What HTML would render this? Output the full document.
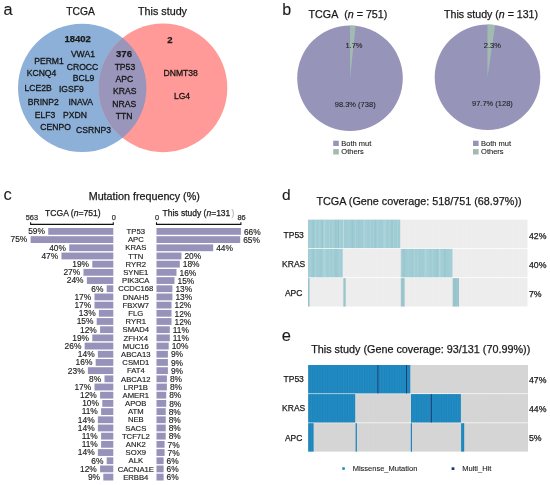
<!DOCTYPE html>
<html><head><meta charset="utf-8"><style>
html,body{margin:0;padding:0;background:#fff;}
body{width:550px;height:485px;overflow:hidden;}
svg{display:block;font-family:"Liberation Sans", sans-serif;will-change:transform;}
</style></head><body>
<svg width="550" height="485" viewBox="0 0 550 485">
<rect width="550" height="485" fill="#fff"/>
<circle cx="82.2" cy="87.9" r="64.2" fill="#8db0d8"/>
<circle cx="163.0" cy="87.9" r="64.3" fill="#ff9a98"/>
<clipPath id="cb"><circle cx="82.2" cy="87.9" r="64.2"/></clipPath>
<circle cx="163.0" cy="87.9" r="64.3" fill="#9995bb" clip-path="url(#cb)"/>
<text x="3.6" y="15.0" font-size="16.3" text-anchor="start" font-weight="normal" fill="#1a1a1a" stroke="#1a1a1a" stroke-width="0.1" >a</text>
<text x="66.2" y="15.1" font-size="10.3" text-anchor="start" font-weight="normal" fill="#1a1a1a" stroke="#1a1a1a" stroke-width="0.25" >TCGA</text>
<text x="138.0" y="15.0" font-size="10.75" text-anchor="start" font-weight="normal" fill="#1a1a1a" stroke="#1a1a1a" stroke-width="0.25" >This study</text>
<text x="77.6" y="42.4" font-size="9.5" text-anchor="middle" font-weight="bold" fill="#1a1a1a" stroke="#1a1a1a" stroke-width="0.25" >18402</text>
<text x="124" y="57.3" font-size="9.5" text-anchor="middle" font-weight="bold" fill="#1a1a1a" stroke="#1a1a1a" stroke-width="0.25" >376</text>
<text x="169.9" y="42.8" font-size="9.5" text-anchor="middle" font-weight="bold" fill="#1a1a1a" stroke="#1a1a1a" stroke-width="0.25" >2</text>
<text x="82.9" y="57.3" font-size="8.6" text-anchor="middle" font-weight="normal" fill="#151515" stroke="#151515" stroke-width="0.28" >VWA1</text>
<text x="49" y="63.5" font-size="8.6" text-anchor="middle" font-weight="normal" fill="#151515" stroke="#151515" stroke-width="0.28" >PERM1</text>
<text x="82.5" y="69.9" font-size="8.6" text-anchor="middle" font-weight="normal" fill="#151515" stroke="#151515" stroke-width="0.28" >CROCC</text>
<text x="41.5" y="76.0" font-size="8.6" text-anchor="middle" font-weight="normal" fill="#151515" stroke="#151515" stroke-width="0.28" >KCNQ4</text>
<text x="83.5" y="81.1" font-size="8.6" text-anchor="middle" font-weight="normal" fill="#151515" stroke="#151515" stroke-width="0.28" >BCL9</text>
<text x="38.2" y="91.0" font-size="8.6" text-anchor="middle" font-weight="normal" fill="#151515" stroke="#151515" stroke-width="0.28" >LCE2B</text>
<text x="71.3" y="92.3" font-size="8.6" text-anchor="middle" font-weight="normal" fill="#151515" stroke="#151515" stroke-width="0.28" >IGSF9</text>
<text x="43.25" y="104.9" font-size="8.6" text-anchor="middle" font-weight="normal" fill="#151515" stroke="#151515" stroke-width="0.28" >BRINP2</text>
<text x="80.75" y="104.9" font-size="8.6" text-anchor="middle" font-weight="normal" fill="#151515" stroke="#151515" stroke-width="0.28" >INAVA</text>
<text x="45" y="118" font-size="8.6" text-anchor="middle" font-weight="normal" fill="#151515" stroke="#151515" stroke-width="0.28" >ELF3</text>
<text x="75" y="118" font-size="8.6" text-anchor="middle" font-weight="normal" fill="#151515" stroke="#151515" stroke-width="0.28" >PXDN</text>
<text x="55.6" y="129.6" font-size="8.6" text-anchor="middle" font-weight="normal" fill="#151515" stroke="#151515" stroke-width="0.28" >CENPO</text>
<text x="93.5" y="132.7" font-size="8.6" text-anchor="middle" font-weight="normal" fill="#151515" stroke="#151515" stroke-width="0.28" >CSRNP3</text>
<text x="124.9" y="69.5" font-size="8.6" text-anchor="middle" font-weight="normal" fill="#151515" stroke="#151515" stroke-width="0.28" >TP53</text>
<text x="124.4" y="81.9" font-size="8.6" text-anchor="middle" font-weight="normal" fill="#151515" stroke="#151515" stroke-width="0.28" >APC</text>
<text x="124.7" y="94.4" font-size="8.6" text-anchor="middle" font-weight="normal" fill="#151515" stroke="#151515" stroke-width="0.28" >KRAS</text>
<text x="124.25" y="106.8" font-size="8.6" text-anchor="middle" font-weight="normal" fill="#151515" stroke="#151515" stroke-width="0.28" >NRAS</text>
<text x="124.0" y="119.0" font-size="8.6" text-anchor="middle" font-weight="normal" fill="#151515" stroke="#151515" stroke-width="0.28" >TTN</text>
<text x="180.7" y="76.0" font-size="8.6" text-anchor="middle" font-weight="normal" fill="#151515" stroke="#151515" stroke-width="0.28" >DNMT38</text>
<text x="182" y="98.9" font-size="8.6" text-anchor="middle" font-weight="normal" fill="#151515" stroke="#151515" stroke-width="0.28" >LG4</text>
<circle cx="350" cy="78.2" r="52.8" fill="#9794b9"/>
<path d="M350,78.2 L350,25.400000000000006 A52.8,52.8 0 0 1 355.63,25.70 Z" fill="#a2bbb0"/>
<circle cx="487.5" cy="77.2" r="52.8" fill="#9794b9"/>
<path d="M487.5,77.2 L487.5,24.400000000000006 A52.8,52.8 0 0 1 495.10,24.95 Z" fill="#a2bbb0"/>
<text x="282.3" y="15.3" font-size="16" text-anchor="start" font-weight="normal" fill="#1a1a1a" stroke="#1a1a1a" stroke-width="0.1" >b</text>
<text x="308.6" y="18.1" font-size="10.7" text-anchor="start" font-weight="normal" fill="#1a1a1a" stroke="#1a1a1a" stroke-width="0.25" >TCGA&#160;&#160;(<tspan font-style="italic">n</tspan> = 751)</text>
<text x="444.1" y="17.7" font-size="10.6" text-anchor="start" font-weight="normal" fill="#1a1a1a" stroke="#1a1a1a" stroke-width="0.25" >This study (<tspan font-style="italic">n</tspan> = 131)</text>
<text x="354" y="48.3" font-size="7.5" text-anchor="middle" font-weight="normal" fill="#222" stroke="#222" stroke-width="0.1" >1.7%</text>
<text x="355.2" y="106.5" font-size="7.5" text-anchor="middle" font-weight="normal" fill="#222" stroke="#222" stroke-width="0.1" >98.3% (738)</text>
<text x="492.3" y="48.1" font-size="7.5" text-anchor="middle" font-weight="normal" fill="#222" stroke="#222" stroke-width="0.1" >2.3%</text>
<text x="492.4" y="106.4" font-size="7.5" text-anchor="middle" font-weight="normal" fill="#222" stroke="#222" stroke-width="0.1" >97.7% (128)</text>
<rect x="333.2" y="140.7" width="5.6" height="5.3" fill="#9794b9"/>
<rect x="333.2" y="149.1" width="5.6" height="5.4" fill="#a2bbb0"/>
<text x="341.3" y="145.9" font-size="7.5" text-anchor="start" font-weight="normal" fill="#222" stroke="#222" stroke-width="0.1" >Both mut</text>
<text x="341.3" y="154.2" font-size="7.5" text-anchor="start" font-weight="normal" fill="#222" stroke="#222" stroke-width="0.1" >Others</text>
<rect x="473.0" y="140.7" width="5.6" height="5.3" fill="#9794b9"/>
<rect x="473.0" y="149.1" width="5.6" height="5.4" fill="#a2bbb0"/>
<text x="481.1" y="145.9" font-size="7.5" text-anchor="start" font-weight="normal" fill="#222" stroke="#222" stroke-width="0.1" >Both mut</text>
<text x="481.1" y="154.2" font-size="7.5" text-anchor="start" font-weight="normal" fill="#222" stroke="#222" stroke-width="0.1" >Others</text>
<text x="3.4" y="200.1" font-size="16.5" text-anchor="start" font-weight="normal" fill="#1a1a1a" stroke="#1a1a1a" stroke-width="0.05" >c</text>
<text x="88.7" y="199.8" font-size="10.76" text-anchor="start" font-weight="normal" fill="#1a1a1a" stroke="#1a1a1a" stroke-width="0.25" >Mutation frequency (%)</text>
<text x="45.0" y="215.5" font-size="8.6" text-anchor="start" font-weight="normal" fill="#1a1a1a" stroke="#1a1a1a" stroke-width="0.25" >TCGA (<tspan font-style="italic">n</tspan>=751)</text>
<text x="162.5" y="215.5" font-size="8.5" text-anchor="start" font-weight="normal" fill="#1a1a1a" stroke="#1a1a1a" stroke-width="0.25" >This study (<tspan font-style="italic">n</tspan>=131</text>
<text x="231.6" y="215.5" font-size="8.5" text-anchor="start" font-weight="normal" fill="#bbb" stroke="#bbb" stroke-width="0.25" >)</text>
<text x="31.9" y="220.0" font-size="7.4" text-anchor="middle" font-weight="normal" fill="#333" stroke="#333" stroke-width="0.25" >563</text>
<text x="113.8" y="219.7" font-size="7.4" text-anchor="middle" font-weight="normal" fill="#333" stroke="#333" stroke-width="0.25" >0</text>
<text x="157.0" y="220.0" font-size="7.4" text-anchor="middle" font-weight="normal" fill="#333" stroke="#333" stroke-width="0.25" >0</text>
<text x="241.6" y="220.2" font-size="7.4" text-anchor="middle" font-weight="normal" fill="#333" stroke="#333" stroke-width="0.25" >86</text>
<path d="M30.6,222.20000000000002 V224.4 H113.3 V222.20000000000002" fill="none" stroke="#111" stroke-width="1.1"/>
<path d="M156.5,222.20000000000002 V224.4 H240.9 V222.20000000000002" fill="none" stroke="#111" stroke-width="1.1"/>
<rect x="48.23" y="228.00" width="65.07" height="6.8" fill="#9792ba"/>
<rect x="156.5" y="228.00" width="84.40" height="6.8" fill="#9792ba"/>
<text x="135.8" y="234.10" font-size="7.7" text-anchor="middle" font-weight="normal" fill="#222" stroke="#222" stroke-width="0.15" >TP53</text>
<text x="44.93" y="234.30" font-size="8.4" text-anchor="end" font-weight="normal" fill="#222" stroke="#222" stroke-width="0.15" >59%</text>
<text x="243.90" y="234.60" font-size="8.4" text-anchor="start" font-weight="normal" fill="#222" stroke="#222" stroke-width="0.15" >66%</text>
<rect x="30.60" y="236.19" width="82.70" height="6.8" fill="#9792ba"/>
<rect x="156.5" y="236.19" width="83.70" height="6.8" fill="#9792ba"/>
<text x="135.8" y="242.29" font-size="7.7" text-anchor="middle" font-weight="normal" fill="#222" stroke="#222" stroke-width="0.15" >APC</text>
<text x="27.30" y="242.49" font-size="8.4" text-anchor="end" font-weight="normal" fill="#222" stroke="#222" stroke-width="0.15" >75%</text>
<text x="243.20" y="242.79" font-size="8.4" text-anchor="start" font-weight="normal" fill="#222" stroke="#222" stroke-width="0.15" >65%</text>
<rect x="69.23" y="244.38" width="44.07" height="6.8" fill="#9792ba"/>
<rect x="156.5" y="244.38" width="56.70" height="6.8" fill="#9792ba"/>
<text x="135.8" y="250.48" font-size="7.7" text-anchor="middle" font-weight="normal" fill="#222" stroke="#222" stroke-width="0.15" >KRAS</text>
<text x="65.93" y="250.68" font-size="8.4" text-anchor="end" font-weight="normal" fill="#222" stroke="#222" stroke-width="0.15" >40%</text>
<text x="216.20" y="250.98" font-size="8.4" text-anchor="start" font-weight="normal" fill="#222" stroke="#222" stroke-width="0.15" >44%</text>
<rect x="61.45" y="252.57" width="51.85" height="6.8" fill="#9792ba"/>
<rect x="156.5" y="252.57" width="24.90" height="6.8" fill="#9792ba"/>
<text x="135.8" y="258.67" font-size="7.7" text-anchor="middle" font-weight="normal" fill="#222" stroke="#222" stroke-width="0.15" >TTN</text>
<text x="58.15" y="258.87" font-size="8.4" text-anchor="end" font-weight="normal" fill="#222" stroke="#222" stroke-width="0.15" >47%</text>
<text x="184.40" y="259.17" font-size="8.4" text-anchor="start" font-weight="normal" fill="#222" stroke="#222" stroke-width="0.15" >20%</text>
<rect x="92.29" y="260.76" width="21.01" height="6.8" fill="#9792ba"/>
<rect x="156.5" y="260.76" width="23.30" height="6.8" fill="#9792ba"/>
<text x="135.8" y="266.86" font-size="7.7" text-anchor="middle" font-weight="normal" fill="#222" stroke="#222" stroke-width="0.15" >RYR2</text>
<text x="88.99" y="267.06" font-size="8.4" text-anchor="end" font-weight="normal" fill="#222" stroke="#222" stroke-width="0.15" >19%</text>
<text x="182.80" y="267.36" font-size="8.4" text-anchor="start" font-weight="normal" fill="#222" stroke="#222" stroke-width="0.15" >18%</text>
<rect x="83.48" y="268.95" width="29.82" height="6.8" fill="#9792ba"/>
<rect x="156.5" y="268.95" width="20.00" height="6.8" fill="#9792ba"/>
<text x="135.8" y="275.05" font-size="7.7" text-anchor="middle" font-weight="normal" fill="#222" stroke="#222" stroke-width="0.15" >SYNE1</text>
<text x="80.18" y="275.25" font-size="8.4" text-anchor="end" font-weight="normal" fill="#222" stroke="#222" stroke-width="0.15" >27%</text>
<text x="179.50" y="275.55" font-size="8.4" text-anchor="start" font-weight="normal" fill="#222" stroke="#222" stroke-width="0.15" >16%</text>
<rect x="86.86" y="277.14" width="26.44" height="6.8" fill="#9792ba"/>
<rect x="156.5" y="277.14" width="18.00" height="6.8" fill="#9792ba"/>
<text x="135.8" y="283.24" font-size="7.7" text-anchor="middle" font-weight="normal" fill="#222" stroke="#222" stroke-width="0.15" >PIK3CA</text>
<text x="83.56" y="283.44" font-size="8.4" text-anchor="end" font-weight="normal" fill="#222" stroke="#222" stroke-width="0.15" >24%</text>
<text x="177.50" y="283.74" font-size="8.4" text-anchor="start" font-weight="normal" fill="#222" stroke="#222" stroke-width="0.15" >15%</text>
<rect x="106.69" y="285.33" width="6.61" height="6.8" fill="#9792ba"/>
<rect x="156.5" y="285.33" width="15.90" height="6.8" fill="#9792ba"/>
<text x="135.8" y="291.43" font-size="7.7" text-anchor="middle" font-weight="normal" fill="#222" stroke="#222" stroke-width="0.15" >CCDC168</text>
<text x="103.39" y="291.63" font-size="8.4" text-anchor="end" font-weight="normal" fill="#222" stroke="#222" stroke-width="0.15" >6%</text>
<text x="175.40" y="291.93" font-size="8.4" text-anchor="start" font-weight="normal" fill="#222" stroke="#222" stroke-width="0.15" >13%</text>
<rect x="94.50" y="293.52" width="18.80" height="6.8" fill="#9792ba"/>
<rect x="156.5" y="293.52" width="15.90" height="6.8" fill="#9792ba"/>
<text x="135.8" y="299.62" font-size="7.7" text-anchor="middle" font-weight="normal" fill="#222" stroke="#222" stroke-width="0.15" >DNAH5</text>
<text x="91.20" y="299.82" font-size="8.4" text-anchor="end" font-weight="normal" fill="#222" stroke="#222" stroke-width="0.15" >17%</text>
<text x="175.40" y="300.12" font-size="8.4" text-anchor="start" font-weight="normal" fill="#222" stroke="#222" stroke-width="0.15" >13%</text>
<rect x="94.50" y="301.71" width="18.80" height="6.8" fill="#9792ba"/>
<rect x="156.5" y="301.71" width="15.00" height="6.8" fill="#9792ba"/>
<text x="135.8" y="307.81" font-size="7.7" text-anchor="middle" font-weight="normal" fill="#222" stroke="#222" stroke-width="0.15" >FBXW7</text>
<text x="91.20" y="308.01" font-size="8.4" text-anchor="end" font-weight="normal" fill="#222" stroke="#222" stroke-width="0.15" >17%</text>
<text x="174.50" y="308.31" font-size="8.4" text-anchor="start" font-weight="normal" fill="#222" stroke="#222" stroke-width="0.15" >12%</text>
<rect x="98.90" y="309.90" width="14.40" height="6.8" fill="#9792ba"/>
<rect x="156.5" y="309.90" width="15.00" height="6.8" fill="#9792ba"/>
<text x="135.8" y="316.00" font-size="7.7" text-anchor="middle" font-weight="normal" fill="#222" stroke="#222" stroke-width="0.15" >FLG</text>
<text x="95.60" y="316.20" font-size="8.4" text-anchor="end" font-weight="normal" fill="#222" stroke="#222" stroke-width="0.15" >13%</text>
<text x="174.50" y="316.50" font-size="8.4" text-anchor="start" font-weight="normal" fill="#222" stroke="#222" stroke-width="0.15" >12%</text>
<rect x="96.70" y="318.09" width="16.60" height="6.8" fill="#9792ba"/>
<rect x="156.5" y="318.09" width="15.00" height="6.8" fill="#9792ba"/>
<text x="135.8" y="324.19" font-size="7.7" text-anchor="middle" font-weight="normal" fill="#222" stroke="#222" stroke-width="0.15" >RYR1</text>
<text x="93.40" y="324.39" font-size="8.4" text-anchor="end" font-weight="normal" fill="#222" stroke="#222" stroke-width="0.15" >15%</text>
<text x="174.50" y="324.69" font-size="8.4" text-anchor="start" font-weight="normal" fill="#222" stroke="#222" stroke-width="0.15" >12%</text>
<rect x="100.08" y="326.28" width="13.22" height="6.8" fill="#9792ba"/>
<rect x="156.5" y="326.28" width="13.30" height="6.8" fill="#9792ba"/>
<text x="135.8" y="332.38" font-size="7.7" text-anchor="middle" font-weight="normal" fill="#222" stroke="#222" stroke-width="0.15" >SMAD4</text>
<text x="96.78" y="332.58" font-size="8.4" text-anchor="end" font-weight="normal" fill="#222" stroke="#222" stroke-width="0.15" >12%</text>
<text x="172.80" y="332.88" font-size="8.4" text-anchor="start" font-weight="normal" fill="#222" stroke="#222" stroke-width="0.15" >11%</text>
<rect x="92.29" y="334.47" width="21.01" height="6.8" fill="#9792ba"/>
<rect x="156.5" y="334.47" width="13.30" height="6.8" fill="#9792ba"/>
<text x="135.8" y="340.57" font-size="7.7" text-anchor="middle" font-weight="normal" fill="#222" stroke="#222" stroke-width="0.15" >ZFHX4</text>
<text x="88.99" y="340.77" font-size="8.4" text-anchor="end" font-weight="normal" fill="#222" stroke="#222" stroke-width="0.15" >19%</text>
<text x="172.80" y="341.07" font-size="8.4" text-anchor="start" font-weight="normal" fill="#222" stroke="#222" stroke-width="0.15" >11%</text>
<rect x="84.66" y="342.66" width="28.64" height="6.8" fill="#9792ba"/>
<rect x="156.5" y="342.66" width="12.20" height="6.8" fill="#9792ba"/>
<text x="135.8" y="348.76" font-size="7.7" text-anchor="middle" font-weight="normal" fill="#222" stroke="#222" stroke-width="0.15" >MUC16</text>
<text x="81.36" y="348.96" font-size="8.4" text-anchor="end" font-weight="normal" fill="#222" stroke="#222" stroke-width="0.15" >26%</text>
<text x="171.70" y="349.26" font-size="8.4" text-anchor="start" font-weight="normal" fill="#222" stroke="#222" stroke-width="0.15" >10%</text>
<rect x="97.88" y="350.85" width="15.42" height="6.8" fill="#9792ba"/>
<rect x="156.5" y="350.85" width="11.40" height="6.8" fill="#9792ba"/>
<text x="135.8" y="356.95" font-size="7.7" text-anchor="middle" font-weight="normal" fill="#222" stroke="#222" stroke-width="0.15" >ABCA13</text>
<text x="94.58" y="357.15" font-size="8.4" text-anchor="end" font-weight="normal" fill="#222" stroke="#222" stroke-width="0.15" >14%</text>
<text x="170.90" y="357.45" font-size="8.4" text-anchor="start" font-weight="normal" fill="#222" stroke="#222" stroke-width="0.15" >9%</text>
<rect x="95.67" y="359.04" width="17.63" height="6.8" fill="#9792ba"/>
<rect x="156.5" y="359.04" width="11.40" height="6.8" fill="#9792ba"/>
<text x="135.8" y="365.14" font-size="7.7" text-anchor="middle" font-weight="normal" fill="#222" stroke="#222" stroke-width="0.15" >CSMD1</text>
<text x="92.37" y="365.34" font-size="8.4" text-anchor="end" font-weight="normal" fill="#222" stroke="#222" stroke-width="0.15" >16%</text>
<text x="170.90" y="365.64" font-size="8.4" text-anchor="start" font-weight="normal" fill="#222" stroke="#222" stroke-width="0.15" >9%</text>
<rect x="87.89" y="367.23" width="25.41" height="6.8" fill="#9792ba"/>
<rect x="156.5" y="367.23" width="11.40" height="6.8" fill="#9792ba"/>
<text x="135.8" y="373.33" font-size="7.7" text-anchor="middle" font-weight="normal" fill="#222" stroke="#222" stroke-width="0.15" >FAT4</text>
<text x="84.59" y="373.53" font-size="8.4" text-anchor="end" font-weight="normal" fill="#222" stroke="#222" stroke-width="0.15" >23%</text>
<text x="170.90" y="373.83" font-size="8.4" text-anchor="start" font-weight="normal" fill="#222" stroke="#222" stroke-width="0.15" >9%</text>
<rect x="104.49" y="375.42" width="8.81" height="6.8" fill="#9792ba"/>
<rect x="156.5" y="375.42" width="10.40" height="6.8" fill="#9792ba"/>
<text x="135.8" y="381.52" font-size="7.7" text-anchor="middle" font-weight="normal" fill="#222" stroke="#222" stroke-width="0.15" >ABCA12</text>
<text x="101.19" y="381.72" font-size="8.4" text-anchor="end" font-weight="normal" fill="#222" stroke="#222" stroke-width="0.15" >8%</text>
<text x="169.90" y="382.02" font-size="8.4" text-anchor="start" font-weight="normal" fill="#222" stroke="#222" stroke-width="0.15" >8%</text>
<rect x="94.50" y="383.61" width="18.80" height="6.8" fill="#9792ba"/>
<rect x="156.5" y="383.61" width="10.40" height="6.8" fill="#9792ba"/>
<text x="135.8" y="389.71" font-size="7.7" text-anchor="middle" font-weight="normal" fill="#222" stroke="#222" stroke-width="0.15" >LRP1B</text>
<text x="91.20" y="389.91" font-size="8.4" text-anchor="end" font-weight="normal" fill="#222" stroke="#222" stroke-width="0.15" >17%</text>
<text x="169.90" y="390.21" font-size="8.4" text-anchor="start" font-weight="normal" fill="#222" stroke="#222" stroke-width="0.15" >8%</text>
<rect x="100.08" y="391.80" width="13.22" height="6.8" fill="#9792ba"/>
<rect x="156.5" y="391.80" width="9.70" height="6.8" fill="#9792ba"/>
<text x="135.8" y="397.90" font-size="7.7" text-anchor="middle" font-weight="normal" fill="#222" stroke="#222" stroke-width="0.15" >AMER1</text>
<text x="96.78" y="398.10" font-size="8.4" text-anchor="end" font-weight="normal" fill="#222" stroke="#222" stroke-width="0.15" >12%</text>
<text x="169.20" y="398.40" font-size="8.4" text-anchor="start" font-weight="normal" fill="#222" stroke="#222" stroke-width="0.15" >8%</text>
<rect x="102.28" y="399.99" width="11.02" height="6.8" fill="#9792ba"/>
<rect x="156.5" y="399.99" width="9.70" height="6.8" fill="#9792ba"/>
<text x="135.8" y="406.09" font-size="7.7" text-anchor="middle" font-weight="normal" fill="#222" stroke="#222" stroke-width="0.15" >APOB</text>
<text x="98.98" y="406.29" font-size="8.4" text-anchor="end" font-weight="normal" fill="#222" stroke="#222" stroke-width="0.15" >10%</text>
<text x="169.20" y="406.59" font-size="8.4" text-anchor="start" font-weight="normal" fill="#222" stroke="#222" stroke-width="0.15" >8%</text>
<rect x="101.11" y="408.18" width="12.19" height="6.8" fill="#9792ba"/>
<rect x="156.5" y="408.18" width="9.20" height="6.8" fill="#9792ba"/>
<text x="135.8" y="414.28" font-size="7.7" text-anchor="middle" font-weight="normal" fill="#222" stroke="#222" stroke-width="0.15" >ATM</text>
<text x="97.81" y="414.48" font-size="8.4" text-anchor="end" font-weight="normal" fill="#222" stroke="#222" stroke-width="0.15" >11%</text>
<text x="168.70" y="414.78" font-size="8.4" text-anchor="start" font-weight="normal" fill="#222" stroke="#222" stroke-width="0.15" >8%</text>
<rect x="97.88" y="416.37" width="15.42" height="6.8" fill="#9792ba"/>
<rect x="156.5" y="416.37" width="9.20" height="6.8" fill="#9792ba"/>
<text x="135.8" y="422.47" font-size="7.7" text-anchor="middle" font-weight="normal" fill="#222" stroke="#222" stroke-width="0.15" >NEB</text>
<text x="94.58" y="422.67" font-size="8.4" text-anchor="end" font-weight="normal" fill="#222" stroke="#222" stroke-width="0.15" >14%</text>
<text x="168.70" y="422.97" font-size="8.4" text-anchor="start" font-weight="normal" fill="#222" stroke="#222" stroke-width="0.15" >8%</text>
<rect x="97.88" y="424.56" width="15.42" height="6.8" fill="#9792ba"/>
<rect x="156.5" y="424.56" width="9.20" height="6.8" fill="#9792ba"/>
<text x="135.8" y="430.66" font-size="7.7" text-anchor="middle" font-weight="normal" fill="#222" stroke="#222" stroke-width="0.15" >SACS</text>
<text x="94.58" y="430.86" font-size="8.4" text-anchor="end" font-weight="normal" fill="#222" stroke="#222" stroke-width="0.15" >14%</text>
<text x="168.70" y="431.16" font-size="8.4" text-anchor="start" font-weight="normal" fill="#222" stroke="#222" stroke-width="0.15" >8%</text>
<rect x="101.11" y="432.75" width="12.19" height="6.8" fill="#9792ba"/>
<rect x="156.5" y="432.75" width="9.20" height="6.8" fill="#9792ba"/>
<text x="135.8" y="438.85" font-size="7.7" text-anchor="middle" font-weight="normal" fill="#222" stroke="#222" stroke-width="0.15" >TCF7L2</text>
<text x="97.81" y="439.05" font-size="8.4" text-anchor="end" font-weight="normal" fill="#222" stroke="#222" stroke-width="0.15" >11%</text>
<text x="168.70" y="439.35" font-size="8.4" text-anchor="start" font-weight="normal" fill="#222" stroke="#222" stroke-width="0.15" >8%</text>
<rect x="101.11" y="440.94" width="12.19" height="6.8" fill="#9792ba"/>
<rect x="156.5" y="440.94" width="8.10" height="6.8" fill="#9792ba"/>
<text x="135.8" y="447.04" font-size="7.7" text-anchor="middle" font-weight="normal" fill="#222" stroke="#222" stroke-width="0.15" >ANK2</text>
<text x="97.81" y="447.24" font-size="8.4" text-anchor="end" font-weight="normal" fill="#222" stroke="#222" stroke-width="0.15" >11%</text>
<text x="167.60" y="447.54" font-size="8.4" text-anchor="start" font-weight="normal" fill="#222" stroke="#222" stroke-width="0.15" >7%</text>
<rect x="97.88" y="449.13" width="15.42" height="6.8" fill="#9792ba"/>
<rect x="156.5" y="449.13" width="8.10" height="6.8" fill="#9792ba"/>
<text x="135.8" y="455.23" font-size="7.7" text-anchor="middle" font-weight="normal" fill="#222" stroke="#222" stroke-width="0.15" >SOX9</text>
<text x="94.58" y="455.43" font-size="8.4" text-anchor="end" font-weight="normal" fill="#222" stroke="#222" stroke-width="0.15" >14%</text>
<text x="167.60" y="455.73" font-size="8.4" text-anchor="start" font-weight="normal" fill="#222" stroke="#222" stroke-width="0.15" >7%</text>
<rect x="106.69" y="457.32" width="6.61" height="6.8" fill="#9792ba"/>
<rect x="156.5" y="457.32" width="7.10" height="6.8" fill="#9792ba"/>
<text x="135.8" y="463.42" font-size="7.7" text-anchor="middle" font-weight="normal" fill="#222" stroke="#222" stroke-width="0.15" >ALK</text>
<text x="103.39" y="463.62" font-size="8.4" text-anchor="end" font-weight="normal" fill="#222" stroke="#222" stroke-width="0.15" >6%</text>
<text x="166.60" y="463.92" font-size="8.4" text-anchor="start" font-weight="normal" fill="#222" stroke="#222" stroke-width="0.15" >6%</text>
<rect x="100.08" y="465.51" width="13.22" height="6.8" fill="#9792ba"/>
<rect x="156.5" y="465.51" width="7.10" height="6.8" fill="#9792ba"/>
<text x="135.8" y="471.61" font-size="7.7" text-anchor="middle" font-weight="normal" fill="#222" stroke="#222" stroke-width="0.15" >CACNA1E</text>
<text x="96.78" y="471.81" font-size="8.4" text-anchor="end" font-weight="normal" fill="#222" stroke="#222" stroke-width="0.15" >12%</text>
<text x="166.60" y="472.11" font-size="8.4" text-anchor="start" font-weight="normal" fill="#222" stroke="#222" stroke-width="0.15" >6%</text>
<rect x="103.31" y="473.70" width="9.99" height="6.8" fill="#9792ba"/>
<rect x="156.5" y="473.70" width="7.10" height="6.8" fill="#9792ba"/>
<text x="135.8" y="479.80" font-size="7.7" text-anchor="middle" font-weight="normal" fill="#222" stroke="#222" stroke-width="0.15" >ERBB4</text>
<text x="100.01" y="480.00" font-size="8.4" text-anchor="end" font-weight="normal" fill="#222" stroke="#222" stroke-width="0.15" >9%</text>
<text x="166.60" y="480.30" font-size="8.4" text-anchor="start" font-weight="normal" fill="#222" stroke="#222" stroke-width="0.15" >6%</text>
<text x="281.9" y="200.2" font-size="15.5" text-anchor="start" font-weight="normal" fill="#1a1a1a" stroke="#1a1a1a" stroke-width="0.1" >d</text>
<text x="316.4" y="205.0" font-size="10.8" text-anchor="start" font-weight="normal" fill="#1a1a1a" stroke="#1a1a1a" stroke-width="0.25" >TCGA (Gene coverage: 518/751 (68.97%))</text>
<rect x="308.0" y="219.7" width="219.5" height="28.4" fill="#ededed"/>
<rect x="308.0" y="248.9" width="219.5" height="28.4" fill="#ededed"/>
<rect x="308.0" y="278.1" width="219.5" height="28.4" fill="#ededed"/>
<rect x="308.0" y="219.7" width="92.20" height="28.4" fill="#a0cdd5"/>
<rect x="308.0" y="248.9" width="34.70" height="28.4" fill="#a0cdd5"/>
<rect x="400.8" y="248.9" width="51.60" height="28.4" fill="#a0cdd5"/>
<rect x="308.0" y="278.1" width="1.60" height="28.4" fill="#99c4cd"/>
<rect x="343.3" y="278.1" width="2.40" height="28.4" fill="#99c4cd"/>
<rect x="400.8" y="278.1" width="3.80" height="28.4" fill="#99c4cd"/>
<rect x="452.7" y="278.1" width="6.30" height="28.4" fill="#99c4cd"/>
<path d="M310.00,219.7V306.5 M315.30,219.7V306.5 M319.70,219.7V306.5 M325.80,219.7V306.5 M329.30,219.7V306.5 M332.80,219.7V306.5 M339.80,219.7V306.5 M343.30,219.7V306.5 M348.60,219.7V306.5 M355.60,219.7V306.5 M359.10,219.7V306.5 M366.10,219.7V306.5 M370.50,219.7V306.5 M374.00,219.7V306.5 M377.50,219.7V306.5 M383.60,219.7V306.5 M389.70,219.7V306.5 M393.20,219.7V306.5 M397.60,219.7V306.5 M401.10,219.7V306.5 M408.10,219.7V306.5 M414.20,219.7V306.5 M417.70,219.7V306.5 M424.70,219.7V306.5 M428.20,219.7V306.5 M432.60,219.7V306.5 M439.60,219.7V306.5 M443.10,219.7V306.5 M450.10,219.7V306.5 M457.10,219.7V306.5 M463.20,219.7V306.5 M466.70,219.7V306.5 M471.10,219.7V306.5 M474.60,219.7V306.5 M481.60,219.7V306.5 M486.00,219.7V306.5 M491.30,219.7V306.5 M497.40,219.7V306.5 M501.80,219.7V306.5 M508.80,219.7V306.5 M512.30,219.7V306.5 M519.30,219.7V306.5 M524.60,219.7V306.5" stroke="#fff" stroke-opacity="0.16" stroke-width="0.6" fill="none"/>
<path d="M324.1,219.7V248.1 M343.5,219.7V248.1 M364.1,219.7V248.1 M385.0,219.7V248.1 M324.1,248.9V277.3 M413.9,248.9V277.3 M426.0,248.9V277.3 M440.0,248.9V277.3" stroke="#fff" stroke-opacity="0.3" stroke-width="0.8" fill="none"/>
<path d="M313.2,219.7V248.1 M322.3,219.7V248.1 M335.9,219.7V248.1 M338.5,219.7V248.1 M352.3,219.7V248.1 M359.0,219.7V248.1 M375.2,219.7V248.1 M392.0,219.7V248.1 M313.2,248.9V277.3 M320.0,248.9V277.3 M336.0,248.9V277.3 M403.9,248.9V277.3 M413.3,248.9V277.3 M437.0,248.9V277.3 M444.6,248.9V277.3" stroke="#6f9ca8" stroke-opacity="0.28" stroke-width="0.7" fill="none"/>
<text x="293.7" y="238.2" font-size="8.5" text-anchor="middle" font-weight="normal" fill="#1a1a1a" stroke="#1a1a1a" stroke-width="0.25" >TP53</text>
<text x="293.7" y="267.3" font-size="8.5" text-anchor="middle" font-weight="normal" fill="#1a1a1a" stroke="#1a1a1a" stroke-width="0.25" >KRAS</text>
<text x="293.7" y="296.2" font-size="8.5" text-anchor="middle" font-weight="normal" fill="#1a1a1a" stroke="#1a1a1a" stroke-width="0.25" >APC</text>
<text x="529.0" y="238.9" font-size="8.7" text-anchor="start" font-weight="normal" fill="#1a1a1a" stroke="#1a1a1a" stroke-width="0.25" >42%</text>
<text x="529.0" y="267.7" font-size="8.7" text-anchor="start" font-weight="normal" fill="#1a1a1a" stroke="#1a1a1a" stroke-width="0.25" >40%</text>
<text x="529.0" y="296.6" font-size="8.7" text-anchor="start" font-weight="normal" fill="#1a1a1a" stroke="#1a1a1a" stroke-width="0.25" >7%</text>
<text x="281.7" y="340.7" font-size="16.5" text-anchor="start" font-weight="normal" fill="#1a1a1a" stroke="#1a1a1a" stroke-width="0.1" >e</text>
<text x="311.2" y="353.0" font-size="10.8" text-anchor="start" font-weight="normal" fill="#1a1a1a" stroke="#1a1a1a" stroke-width="0.25" >This study (Gene coverage: 93/131 (70.99%))</text>
<rect x="308.2" y="365.0" width="219.80" height="28.4" fill="#d4d4d4"/>
<rect x="308.2" y="394.1" width="219.80" height="28.4" fill="#d4d4d4"/>
<rect x="308.2" y="423.2" width="219.80" height="28.4" fill="#d4d4d4"/>
<rect x="308.2" y="365.0" width="102.10" height="28.4" fill="#1985be"/>
<rect x="308.2" y="394.1" width="47.00" height="28.4" fill="#1985be"/>
<rect x="411.0" y="394.1" width="49.90" height="28.4" fill="#1985be"/>
<rect x="308.2" y="423.2" width="5.40" height="28.4" fill="#1985be"/>
<rect x="355.6" y="423.2" width="1.30" height="28.4" fill="#1985be"/>
<rect x="410.8" y="423.2" width="1.20" height="28.4" fill="#1985be"/>
<rect x="461.1" y="423.2" width="3.10" height="28.4" fill="#1985be"/>
<rect x="377.4" y="365.0" width="1" height="28.4" fill="#1d3a70"/>
<rect x="406.0" y="365.0" width="1" height="28.4" fill="#1d3a70"/>
<rect x="430.8" y="394.1" width="1" height="28.4" fill="#1d3a70"/>
<path d="M309.88,365.0V451.59999999999997 M311.56,365.0V451.59999999999997 M313.23,365.0V451.59999999999997 M314.91,365.0V451.59999999999997 M316.59,365.0V451.59999999999997 M318.27,365.0V451.59999999999997 M319.95,365.0V451.59999999999997 M321.62,365.0V451.59999999999997 M323.30,365.0V451.59999999999997 M324.98,365.0V451.59999999999997 M326.66,365.0V451.59999999999997 M328.33,365.0V451.59999999999997 M330.01,365.0V451.59999999999997 M331.69,365.0V451.59999999999997 M333.37,365.0V451.59999999999997 M335.05,365.0V451.59999999999997 M336.72,365.0V451.59999999999997 M338.40,365.0V451.59999999999997 M340.08,365.0V451.59999999999997 M341.76,365.0V451.59999999999997 M343.44,365.0V451.59999999999997 M345.11,365.0V451.59999999999997 M346.79,365.0V451.59999999999997 M348.47,365.0V451.59999999999997 M350.15,365.0V451.59999999999997 M351.82,365.0V451.59999999999997 M353.50,365.0V451.59999999999997 M355.18,365.0V451.59999999999997 M356.86,365.0V451.59999999999997 M358.54,365.0V451.59999999999997 M360.21,365.0V451.59999999999997 M361.89,365.0V451.59999999999997 M363.57,365.0V451.59999999999997 M365.25,365.0V451.59999999999997 M366.93,365.0V451.59999999999997 M368.60,365.0V451.59999999999997 M370.28,365.0V451.59999999999997 M371.96,365.0V451.59999999999997 M373.64,365.0V451.59999999999997 M375.31,365.0V451.59999999999997 M376.99,365.0V451.59999999999997 M378.67,365.0V451.59999999999997 M380.35,365.0V451.59999999999997 M382.03,365.0V451.59999999999997 M383.70,365.0V451.59999999999997 M385.38,365.0V451.59999999999997 M387.06,365.0V451.59999999999997 M388.74,365.0V451.59999999999997 M390.42,365.0V451.59999999999997 M392.09,365.0V451.59999999999997 M393.77,365.0V451.59999999999997 M395.45,365.0V451.59999999999997 M397.13,365.0V451.59999999999997 M398.80,365.0V451.59999999999997 M400.48,365.0V451.59999999999997 M402.16,365.0V451.59999999999997 M403.84,365.0V451.59999999999997 M405.52,365.0V451.59999999999997 M407.19,365.0V451.59999999999997 M408.87,365.0V451.59999999999997 M410.55,365.0V451.59999999999997 M412.23,365.0V451.59999999999997 M413.91,365.0V451.59999999999997 M415.58,365.0V451.59999999999997 M417.26,365.0V451.59999999999997 M418.94,365.0V451.59999999999997 M420.62,365.0V451.59999999999997 M422.29,365.0V451.59999999999997 M423.97,365.0V451.59999999999997 M425.65,365.0V451.59999999999997 M427.33,365.0V451.59999999999997 M429.01,365.0V451.59999999999997 M430.68,365.0V451.59999999999997 M432.36,365.0V451.59999999999997 M434.04,365.0V451.59999999999997 M435.72,365.0V451.59999999999997 M437.40,365.0V451.59999999999997 M439.07,365.0V451.59999999999997 M440.75,365.0V451.59999999999997 M442.43,365.0V451.59999999999997 M444.11,365.0V451.59999999999997 M445.78,365.0V451.59999999999997 M447.46,365.0V451.59999999999997 M449.14,365.0V451.59999999999997 M450.82,365.0V451.59999999999997 M452.50,365.0V451.59999999999997 M454.17,365.0V451.59999999999997 M455.85,365.0V451.59999999999997 M457.53,365.0V451.59999999999997 M459.21,365.0V451.59999999999997 M460.89,365.0V451.59999999999997 M462.56,365.0V451.59999999999997 M464.24,365.0V451.59999999999997 M465.92,365.0V451.59999999999997 M467.60,365.0V451.59999999999997 M469.27,365.0V451.59999999999997 M470.95,365.0V451.59999999999997 M472.63,365.0V451.59999999999997 M474.31,365.0V451.59999999999997 M475.99,365.0V451.59999999999997 M477.66,365.0V451.59999999999997 M479.34,365.0V451.59999999999997 M481.02,365.0V451.59999999999997 M482.70,365.0V451.59999999999997 M484.38,365.0V451.59999999999997 M486.05,365.0V451.59999999999997 M487.73,365.0V451.59999999999997 M489.41,365.0V451.59999999999997 M491.09,365.0V451.59999999999997 M492.76,365.0V451.59999999999997 M494.44,365.0V451.59999999999997 M496.12,365.0V451.59999999999997 M497.80,365.0V451.59999999999997 M499.48,365.0V451.59999999999997 M501.15,365.0V451.59999999999997 M502.83,365.0V451.59999999999997 M504.51,365.0V451.59999999999997 M506.19,365.0V451.59999999999997 M507.87,365.0V451.59999999999997 M509.54,365.0V451.59999999999997 M511.22,365.0V451.59999999999997 M512.90,365.0V451.59999999999997 M514.58,365.0V451.59999999999997 M516.25,365.0V451.59999999999997 M517.93,365.0V451.59999999999997 M519.61,365.0V451.59999999999997 M521.29,365.0V451.59999999999997 M522.97,365.0V451.59999999999997 M524.64,365.0V451.59999999999997 M526.32,365.0V451.59999999999997" stroke="#fff" stroke-opacity="0.13" stroke-width="0.45" fill="none"/>
<text x="293.7" y="382.1" font-size="8.5" text-anchor="middle" font-weight="normal" fill="#1a1a1a" stroke="#1a1a1a" stroke-width="0.25" >TP53</text>
<text x="293.7" y="411.4" font-size="8.5" text-anchor="middle" font-weight="normal" fill="#1a1a1a" stroke="#1a1a1a" stroke-width="0.25" >KRAS</text>
<text x="293.7" y="440.6" font-size="8.5" text-anchor="middle" font-weight="normal" fill="#1a1a1a" stroke="#1a1a1a" stroke-width="0.25" >APC</text>
<text x="529.0" y="383.4" font-size="8.7" text-anchor="start" font-weight="normal" fill="#1a1a1a" stroke="#1a1a1a" stroke-width="0.25" >47%</text>
<text x="529.0" y="412.4" font-size="8.7" text-anchor="start" font-weight="normal" fill="#1a1a1a" stroke="#1a1a1a" stroke-width="0.25" >44%</text>
<text x="529.0" y="441.3" font-size="8.7" text-anchor="start" font-weight="normal" fill="#1a1a1a" stroke="#1a1a1a" stroke-width="0.25" >5%</text>
<rect x="342.3" y="467.3" width="2.5" height="2.5" fill="#1985be"/>
<rect x="451.6" y="467.3" width="2.8" height="2.7" fill="#1d3a70"/>
<text x="352.7" y="470.8" font-size="7.5" text-anchor="start" font-weight="normal" fill="#222" stroke="#222" stroke-width="0.1" >Missense_Mutation</text>
<text x="462.2" y="470.6" font-size="7.5" text-anchor="start" font-weight="normal" fill="#222" stroke="#222" stroke-width="0.1" >Multi_Hit</text>
</svg>
</body></html>
